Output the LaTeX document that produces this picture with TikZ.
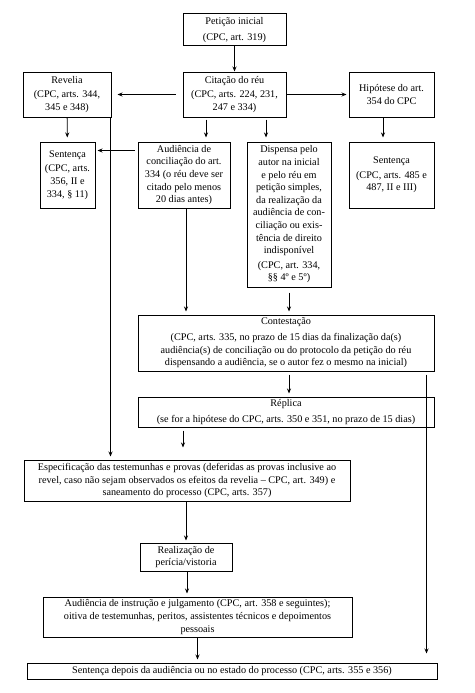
\documentclass[tikz,border=0pt]{standalone}
\usepackage{fontspec}
\setmainfont{Liberation Serif}
\usetikzlibrary{arrows.meta}

\begin{document}
\begin{tikzpicture}[x=1pt, y=-1pt,
  caixa/.style={draw, line width=1pt, align=center, inner sep=0pt, font=\fontsize{10.2}{12.6}\selectfont},
  seta/.style={-{Stealth[length=5pt,width=4pt]}, line width=0.8pt}]
\useasboundingbox (0,0) rectangle (474,693);

% Linha de cima
\node[caixa, minimum width=103pt, minimum height=32pt] (peticao) at (234.5,30) {Petição inicial\\[3pt](CPC, art. 319)};
\node[caixa, minimum width=103pt, minimum height=45pt] (citacao) at (234.5,94.5) {Citação do réu\\[2pt](CPC, arts. 224, 231,\\247 e 334)};
\node[caixa, minimum width=88pt, minimum height=45pt] (revelia) at (67,94.5) {Revelia\\[2pt](CPC, arts. 344,\\345 e 348)};
\node[caixa, minimum width=85pt, minimum height=45pt] (hipotese) at (391.5,94.5) {Hipótese do art.\\354 do CPC};

% Segunda linha
\node[caixa, minimum width=55pt, minimum height=66pt] (sentA) at (67.5,175) {Sentença\\[2pt](CPC, arts.\\356, II e\\334, § 11)};
\node[caixa, minimum width=92pt, minimum height=66pt] (audconc) at (184,175) {Audiência de\\conciliação do art.\\334 (o réu deve ser\\citado pelo menos\\20 dias antes)};
\node[caixa, minimum width=84pt, minimum height=145pt] (dispensa) at (289,214.5) {Dispensa pelo\\autor na inicial\\e pelo réu em\\petição simples,\\da realização da\\audiência de con-\\ciliação ou exis-\\tência de direito\\indisponível\\[2pt](CPC, art. 334,\\§§ 4º e 5º)};
\node[caixa, minimum width=85pt, minimum height=66pt] (sentB) at (391.5,175) {Sentença\\[2pt](CPC, arts. 485 e\\487, II e III)};

% Parte de baixo
\node[caixa, minimum width=296pt, minimum height=56pt] (contest) at (286,343) {Contestação\\[3pt](CPC, arts. 335, no prazo de 15 dias da finalização da(s)\\audiência(s) de conciliação ou do protocolo da petição do réu\\dispensando a audiência, se o autor fez o mesmo na inicial)};
\node[caixa, minimum width=296pt, minimum height=30pt] (replica) at (286,412) {Réplica\\[3pt](se for a hipótese do CPC, arts. 350 e 351, no prazo de 15 dias)};
\node[caixa, minimum width=326pt, minimum height=41pt] (especif) at (187,480.5) {Especificação das testemunhas e provas (deferidas as provas inclusive ao\\revel, caso não sejam observados os efeitos da revelia – CPC, art. 349) e\\saneamento do processo (CPC, arts. 357)};
\node[caixa, minimum width=92pt, minimum height=28pt] (realiz) at (186,557) {Realização de\\perícia/vistoria};
\node[caixa, minimum width=309pt, minimum height=40pt] (audinst) at (197.5,617) {Audiência de instrução e julgamento (CPC, art. 358 e seguintes);\\oitiva de testemunhas, peritos, assistentes técnicos e depoimentos\\pessoais};
\node[caixa, minimum width=410pt, minimum height=16pt] (sentfinal) at (232,671) {Sentença depois da audiência ou no estado do processo (CPC, arts. 355 e 356)};

% Setas
\draw[seta] (peticao) -- (citacao);
\draw[seta, shorten <=7pt, shorten >=6pt] (citacao) -- (revelia);
\draw[seta, shorten >=2pt] (citacao) -- (hipotese);
\draw[seta, shorten >=4pt] (revelia) -- (sentA);
\draw[seta, shorten <=2pt, shorten >=4pt] (citacao.south -| 206,0) coordinate (c1) -- (audconc.north -| c1);
\draw[seta, shorten <=2pt, shorten >=4pt] (citacao.south -| 266,0) coordinate (c2) -- (dispensa.north -| c2);
\draw[seta, shorten >=4pt] (hipotese.south -| 383,0) coordinate (c3) -- (sentB.north -| c3);
\draw[seta, shorten <=3pt, shorten >=2pt] (audconc.north west) ++(0,9) coordinate (c4) -- (sentA.east |- c4);
\draw[seta, shorten >=3pt] ([xshift=-1pt]revelia.south east) coordinate (c5) -- (especif.north -| c5);
\draw[seta, shorten >=3pt] (audconc.south -| 186,0) coordinate (c6) -- (contest.north -| c6);
\draw[seta, shorten <=5pt, shorten >=3pt] (dispensa) -- (contest.north -| dispensa);
\draw[seta, shorten <=3pt, shorten >=3pt] (contest.south -| dispensa) -- (replica.north -| dispensa);
\draw[seta, shorten <=3pt, shorten >=12pt] (replica.south -| 183,0) coordinate (c7) -- (especif.north -| c7);
\draw[seta, shorten <=3pt, shorten >=9pt] ([xshift=-8pt]contest.south east) coordinate (c8) -- (sentfinal.north -| c8);
\draw[seta, shorten >=2pt] (especif.south -| realiz) -- (realiz);
\draw[seta, shorten >=3pt] (realiz.south -| 187,0) coordinate (c9) -- (audinst.north -| c9);
\draw[seta, shorten >=3pt] (audinst) -- (sentfinal.north -| audinst);

\end{tikzpicture}
\end{document}
